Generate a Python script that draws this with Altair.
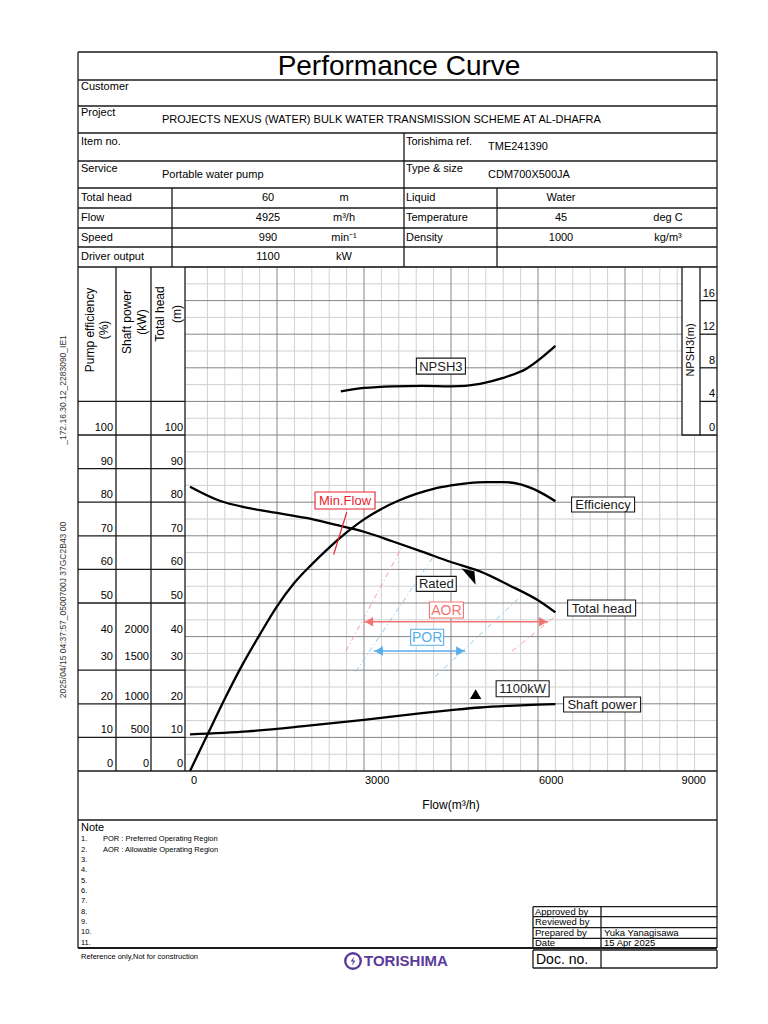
import altair as alt
import pandas as pd

FONT = "Liberation Sans"

head_flow = [0, 500, 1000, 1500, 2000, 2500, 3000, 3500, 4000, 4500, 5000, 5500, 6000, 6300]
head_m = [84.6, 80.5, 78.3, 76.8, 75.3, 73.3, 71.2, 68.3, 65.3, 62.2, 59.4, 55.3, 50.8, 47.2]

eff_flow = [0, 300, 600, 900, 1200, 1500, 1800, 2100, 2400, 2700, 3000, 3300,
            3600, 3900, 4200, 4500, 4800, 5100, 5400, 5700, 6000, 6300]
eff_pct = [0, 10.8, 21.5, 31.5, 40.5, 49, 56, 61.5, 66.5, 71, 74.9, 78,
           80.5, 82.5, 84, 85, 85.7, 86, 86, 85.3, 83.3, 80.3]

power_flow = [0, 1000, 2000, 3000, 4000, 4500, 5000, 5500, 6000, 6300]
power_kw = [545, 590, 670, 760, 860, 905, 945, 970, 988, 995]

npsh_flow = [2600, 3000, 3500, 4000, 4500, 5000, 5400, 5800, 6300]
npsh_m = [5.2, 5.6, 5.8, 5.85, 5.8, 6.1, 6.8, 7.9, 10.6]

rated_flow, rated_head = 4925, 60
speed_rpm, driver_kw = 990, 1100
temperature_c, density = 45, 1000

min_flow_seg = [(2477, 64.4), (2702, 77.0)]
aor_range, aor_level = (3000, 6175), 44.4
por_range, por_level = (3170, 4745), 35.7
aor_guides = [((2690, 35.7), (3683, 67.6)), ((5554, 35.7), (6316, 46.3))]
por_guides = [((2859, 29.6), (4201, 63.9)), ((4229, 28.1), (5723, 52.3))]

flow_ticks = [0, 3000, 6000, 9000]
eff_ticks = [0, 10, 20, 30, 40, 50, 60, 70, 80, 90, 100]
head_ticks = [0, 10, 20, 30, 40, 50, 60, 70, 80, 90, 100]
power_ticks = [0, 500, 1000, 1500, 2000]
npsh_ticks = [0, 4, 8, 12, 16]


def kw_units(kw):
    return kw / 50.0


def npsh_units(m):
    return 100 + 2.5 * m


RED = "#e8232d"
SALMON = "#f27474"
BLUE = "#5aaeea"
PURPLE = "#5b3a9c"
INK = "#1a1a1a"

# ---------------- page layout ----------------
X0, Y0 = 185, 267          # page position of plot origin
W, H = 532, 504
xs = alt.Scale(domain=[0, 9000], nice=False, zero=False)
ys = alt.Scale(domain=[0, 150], nice=False, zero=False)

layers = []


def vgrid(vals, color):
    return alt.Chart(pd.DataFrame({"v": vals})).mark_rule(color=color, strokeWidth=1).encode(
        x=alt.X("v:Q", scale=xs, axis=None), y=alt.value(0), y2=alt.value(H))


def hgrid(vals, color, x0=0, x1=W, w=1):
    return alt.Chart(pd.DataFrame({"v": vals})).mark_rule(color=color, strokeWidth=w).encode(
        y=alt.Y("v:Q", scale=ys, axis=None), x=alt.value(x0), x2=alt.value(x1))


def hlines(segs, color=INK, w=1.3):
    df = pd.DataFrame(segs, columns=["y", "x1", "x2"])
    df["y"] -= Y0
    df["x1"] -= X0
    df["x2"] -= X0
    return alt.Chart(df).mark_rule(color=color, strokeWidth=w).encode(
        x=alt.X("x1:Q", scale=None, axis=None), x2="x2:Q",
        y=alt.Y("y:Q", scale=None, axis=None))


def vlines(segs, color=INK, w=1.3):
    df = pd.DataFrame(segs, columns=["x", "y1", "y2"])
    df["x"] -= X0
    df["y1"] -= Y0
    df["y2"] -= Y0
    return alt.Chart(df).mark_rule(color=color, strokeWidth=w).encode(
        x=alt.X("x:Q", scale=None, axis=None),
        y=alt.Y("y1:Q", scale=None, axis=None), y2="y2:Q")


def ptext(items, size=11, align="left", weight="normal", color="black", angle=0, baseline="middle"):
    df = pd.DataFrame(items, columns=["t", "x", "y"])
    df["x"] -= X0
    df["y"] -= Y0
    return alt.Chart(df).mark_text(font=FONT, fontSize=size, align=align, baseline=baseline,
                                   fontWeight=weight, color=color, angle=angle).encode(
        x=alt.X("x:Q", scale=None, axis=None), y=alt.Y("y:Q", scale=None, axis=None), text="t:N")


# ---- grid ----
layers.append(vgrid([v for v in range(0, 9001, 300) if v % 1500], "#d0d0d0"))
layers.append(hgrid([v for v in range(5, 151, 5) if v % 10], "#d0d0d0"))
layers.append(vgrid([v for v in range(1500, 9000, 1500)], "#858585"))
layers.append(hgrid([v for v in range(10, 151, 10)], "#858585"))

# NPSH scale box (white) in upper right
layers.append(alt.Chart(pd.DataFrame({"a": [150], "b": [100]})).mark_rect(fill="white").encode(
    y=alt.Y("a:Q", scale=ys, axis=None), y2="b:Q", x=alt.value(682 - X0), x2=alt.value(W)))


# ---- guide lines (AOR / POR) ----
def guide_layer(guides, color):
    df = pd.DataFrame([{"f1": a[0], "v1": a[1], "f2": b[0], "v2": b[1]} for a, b in guides])
    return alt.Chart(df).mark_rule(color=color, strokeWidth=1, strokeDash=[5, 3, 1, 3]).encode(
        x=alt.X("f1:Q", scale=xs, axis=None), x2="f2:Q",
        y=alt.Y("v1:Q", scale=ys, axis=None), y2="v2:Q")


layers.append(guide_layer(aor_guides, "#f59a9a"))
layers.append(guide_layer(por_guides, "#8ccaf2"))

# ---- curves ----
curves = pd.concat([
    pd.DataFrame({"series": "Total head", "flow": head_flow, "val": head_m}),
    pd.DataFrame({"series": "Efficiency", "flow": eff_flow, "val": eff_pct}),
    pd.DataFrame({"series": "Shaft power", "flow": power_flow, "val": [kw_units(k) for k in power_kw]}),
    pd.DataFrame({"series": "NPSH3", "flow": npsh_flow, "val": [npsh_units(m) for m in npsh_m]}),
])
layers.append(alt.Chart(curves).mark_line(color="black", strokeWidth=2.3, interpolate="monotone").encode(
    x=alt.X("flow:Q", scale=xs, axis=None), y=alt.Y("val:Q", scale=ys, axis=None), detail="series:N"))

# min flow mark
mf = pd.DataFrame({"f1": [min_flow_seg[0][0]], "v1": [min_flow_seg[0][1]],
                   "f2": [min_flow_seg[1][0]], "v2": [min_flow_seg[1][1]]})
layers.append(alt.Chart(mf).mark_rule(color=RED, strokeWidth=1.2).encode(
    x=alt.X("f1:Q", scale=xs, axis=None), x2="f2:Q", y=alt.Y("v1:Q", scale=ys, axis=None), y2="v2:Q"))


# AOR / POR arrows
def arrow(rng, level, color):
    df = pd.DataFrame({"a": [rng[0]], "b": [rng[1]], "v": [level]})
    line = alt.Chart(df).mark_rule(color=color, strokeWidth=1.6).encode(
        x=alt.X("a:Q", scale=xs, axis=None), x2="b:Q", y=alt.Y("v:Q", scale=ys, axis=None))
    left = alt.Chart(df).mark_point(shape="triangle-left", filled=True, size=90, color=color,
                                    opacity=1, xOffset=5).encode(
        x=alt.X("a:Q", scale=xs, axis=None), y=alt.Y("v:Q", scale=ys, axis=None))
    right = alt.Chart(df).mark_point(shape="triangle-right", filled=True, size=90, color=color,
                                     opacity=1, xOffset=-5).encode(
        x=alt.X("b:Q", scale=xs, axis=None), y=alt.Y("v:Q", scale=ys, axis=None))
    return [line, left, right]


layers += arrow(aor_range, aor_level, SALMON)
layers += arrow(por_range, por_level, BLUE)

# rated marker and driver marker
rated_df = pd.DataFrame({"f": [rated_flow], "v": [rated_head]})
layers.append(alt.Chart(rated_df).mark_point(
    shape="M -0.89 -0.05 L -0.08 0.12 L 0.0 0.97 Z", size=1000, filled=True, color="black", opacity=1).encode(
    x=alt.X("f:Q", scale=xs, axis=None), y=alt.Y("v:Q", scale=ys, axis=None)))
drv_df = pd.DataFrame({"f": [rated_flow], "v": [kw_units(driver_kw)]})
layers.append(alt.Chart(drv_df).mark_point(shape="triangle-up", size=130, filled=True, color="black",
                                           opacity=1, yOffset=-3).encode(
    x=alt.X("f:Q", scale=xs, axis=None), y=alt.Y("v:Q", scale=ys, axis=None)))

# ---- boxed labels ----
labels = [
    ("NPSH3", 4326, 120.5, INK, 49, 16, 13),
    ("Efficiency", 7122, 79.3, INK, 63, 15, 13),
    ("Total head", 7097, 48.5, INK, 68, 16, 13),
    ("Rated", 4246, 55.7, INK, 40, 15, 13),
    (f"{driver_kw}kW", 5735, 24.5, INK, 53, 16, 13),
    ("Shaft power", 7105, 19.8, INK, 77, 15, 13),
    ("Min.Flow", 2673, 80.5, RED, 60, 17, 13),
    ("AOR", 4421, 47.9, SALMON, 34, 16, 14),
    ("POR", 4089, 39.8, BLUE, 33, 16, 14),
]
for txt, f, v, col, bw, bh, fs in labels:
    d = pd.DataFrame({"f": [f], "v": [v], "t": [txt]})
    layers.append(alt.Chart(d).mark_bar(width=bw, fill="white", stroke=col, strokeWidth=1.1,
                                        yOffset=-bh / 2, y2Offset=bh / 2).encode(
        x=alt.X("f:Q", scale=xs, axis=None), y=alt.Y("v:Q", scale=ys, axis=None), y2="v:Q"))
    layers.append(alt.Chart(d).mark_text(font=FONT, fontSize=fs, color=col, baseline="middle", dy=0.5).encode(
        x=alt.X("f:Q", scale=xs, axis=None), y=alt.Y("v:Q", scale=ys, axis=None), text="t:N"))

# ---- left value columns ----
layers.append(hgrid([0, 10, 20, 30, 50, 60, 70, 80, 90, 100, 110], INK, x0=78 - X0, x1=0, w=1.3))
layers.append(hgrid([0], INK, x0=0, x1=W, w=1.3))


def col_text(vals, conv, xr):
    df = pd.DataFrame({"t": [str(v) for v in vals], "v": [conv(v) for v in vals]})
    base = alt.Chart(df)
    enc = dict(x=alt.value(xr - X0), y=alt.Y("v:Q", scale=ys, axis=None), text="t:N")
    normal = base.transform_filter("datum.v != 30").mark_text(
        font=FONT, fontSize=11, align="right", baseline="bottom", dy=-2, color="black").encode(**enc)
    raised = base.transform_filter("datum.v == 30").mark_text(
        font=FONT, fontSize=11, align="right", baseline="bottom", dy=-8, color="black").encode(**enc)
    return [normal, raised]


layers += col_text(eff_ticks, lambda v: v, 113)
layers += col_text(power_ticks, kw_units, 149)
layers += col_text(head_ticks, lambda v: v, 183)

# NPSH column
layers.append(hgrid([npsh_units(m) for m in npsh_ticks[1:]], INK, x0=700 - X0, x1=W, w=1.3))
layers.append(hgrid([npsh_units(0)], INK, x0=682 - X0, x1=W, w=1.3))
npsh_lab = pd.DataFrame({"t": [str(m) for m in npsh_ticks], "v": [npsh_units(m) for m in npsh_ticks]})
layers.append(alt.Chart(npsh_lab).mark_text(
    font=FONT, fontSize=11, align="right", baseline="bottom", dy=-2, color="black").encode(
    x=alt.value(715 - X0), y=alt.Y("v:Q", scale=ys, axis=None), text="t:N"))

# flow tick labels
ft = pd.DataFrame({"v": flow_ticks, "t": [str(v) for v in flow_ticks]})
layers.append(alt.Chart(ft).transform_filter("datum.v < 9000").mark_text(
    font=FONT, fontSize=11, align="left", baseline="middle", dx=1).encode(
    x=alt.X("v:Q", scale=xs, axis=None), y=alt.value(781 - Y0), text="t:N"))
layers.append(alt.Chart(ft).transform_filter("datum.v >= 9000").mark_text(
    font=FONT, fontSize=11, align="right", baseline="middle", dx=-6).encode(
    x=alt.X("v:Q", scale=xs, axis=None), y=alt.value(781 - Y0), text="t:N"))

# ---- frame lines ----
layers.append(hlines([
    (52, 78, 717), (80, 78, 717), (106, 78, 717), (133, 78, 717), (161, 78, 717),
    (188, 78, 717), (208, 78, 717), (228, 78, 717), (247, 78, 717), (267, 78, 717),
    (820, 78, 717),
    (906.7, 533, 717), (916.7, 533, 717), (927.7, 533, 717), (938.3, 533, 717),
    (950, 533, 717), (968, 533, 717),
]))
layers.append(hlines([(948, 78, 717)], w=2))
layers.append(vlines([
    (78, 52, 948), (717, 52, 948), (172, 188, 267), (404, 133, 267), (497, 188, 267),
    (116, 267, 771), (151, 267, 771), (185, 267, 771),
    (682, 267, 435.5), (700, 267, 435.5),
    (533, 906.7, 948), (601, 906.7, 948),
    (533, 950, 968), (601, 950, 968), (717, 950, 968),
]))

# ---- texts ----
layers.append(ptext([("Performance Curve", 399, 67)], size=28, align="center"))
layers.append(ptext([
    ("Customer", 81, 87), ("Project", 81, 113), ("Item no.", 81, 142), ("Service", 81, 169),
    ("Total head", 81, 198), ("Flow", 81, 218), ("Speed", 81, 237.5), ("Driver output", 81, 257),
    ("Torishima ref.", 406, 141.5), ("Type & size", 406, 169), ("Liquid", 406, 198),
    ("Temperature", 406, 218), ("Density", 406, 237.5),
    ("PROJECTS NEXUS (WATER) BULK WATER TRANSMISSION SCHEME AT AL-DHAFRA", 162, 120),
    ("TME241390", 488, 147), ("Portable water pump", 162, 175), ("CDM700X500JA", 488, 175),
]))
layers.append(ptext([
    (str(rated_head), 268, 198), (str(rated_flow), 268, 218), (str(speed_rpm), 268, 237.5),
    (str(driver_kw), 268, 257),
    ("m", 344, 198), ("m³/h", 344, 218), ("min⁻¹", 344, 237.5), ("kW", 344, 257),
    ("Water", 561, 198), (str(temperature_c), 561, 218), (str(density), 561, 237.5),
    ("deg C", 668, 218), ("kg/m³", 668, 237.5),
], align="center"))

# rotated column headers
layers.append(ptext([
    ("Pump efficiency", 90, 330), ("(%)", 104, 330),
    ("Shaft power", 127, 322), ("(kW)", 142, 322),
    ("Total head", 160, 314), ("(m)", 177, 314),
], size=12, align="center", angle=270))
layers.append(ptext([("NPSH3(m)", 691, 350)], size=11, align="center", angle=270))

# side stamp
layers.append(ptext([
    ("2025/04/15 04:37:57_0500700J 37GC2B43 00", 63, 610),
    ("_172.16.30.12_2283090_IE1", 63, 390),
], size=8.5, align="center", angle=270, color="#333333"))

layers.append(ptext([("Flow(m³/h)", 451, 805)], size=12, align="center"))

# notes
note_ys = [839, 849.5, 860, 870, 880.5, 891, 901, 911.5, 922, 932, 942.5]
layers.append(ptext([("Note", 81, 828)], size=11))
layers.append(ptext([(f"{i + 1}.", 81, y) for i, y in enumerate(note_ys)], size=7.5))
layers.append(ptext([("POR : Preferred Operating Region", 103, note_ys[0]),
                     ("AOR : Allowable Operating Region", 103, note_ys[1])], size=7.5))
layers.append(ptext([("Approved by", 535, 911.7), ("Reviewed by", 535, 922.2),
                     ("Prepared by", 535, 933), ("Date", 535, 943.2),
                     ("Yuka Yanagisawa", 604, 933), ("15 Apr 2025", 604, 943.2)], size=9.5))
layers.append(ptext([("Doc. no.", 536, 959.5)], size=14))
layers.append(ptext([("Reference only,Not for construction", 81, 957)], size=7.5))
layers.append(ptext([("TORISHIMA", 406, 961)], size=15, align="center", weight="bold", color=PURPLE))

logo = pd.DataFrame({"x": [353 - X0], "y": [961 - Y0]})
layers.append(alt.Chart(logo).mark_point(shape="circle", size=240, filled=False, stroke=PURPLE,
                                         strokeWidth=2.4, opacity=1).encode(
    x=alt.X("x:Q", scale=None, axis=None), y=alt.Y("y:Q", scale=None, axis=None)))
layers.append(alt.Chart(logo).mark_point(
    shape="M 0.25 -0.9 L -0.45 0.1 L 0 0.1 L -0.2 0.9 L 0.45 -0.1 L 0 -0.1 Z",
    size=110, filled=True, color=PURPLE, opacity=1).encode(
    x=alt.X("x:Q", scale=None, axis=None), y=alt.Y("y:Q", scale=None, axis=None)))

chart = alt.layer(*layers).properties(
    width=W, height=H,
    autosize=alt.AutoSizeParams(type="none"),
    padding={"left": X0 - 8, "top": Y0 - 8, "right": 752 - (X0 - 8) - W, "bottom": 1008 - (Y0 - 8) - H},
    background="white",
).configure_view(strokeWidth=0)

chart.save("out.html", embed_options={"renderer": "svg", "actions": False})
